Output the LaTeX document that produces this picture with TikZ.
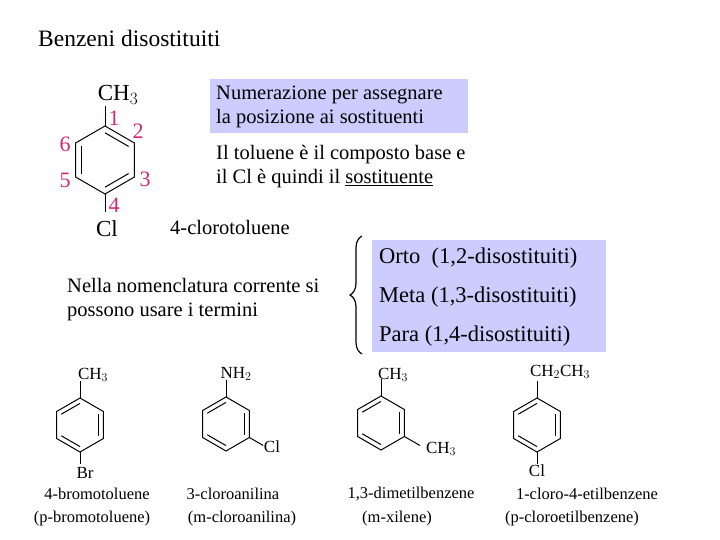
\documentclass[tikz,border=0pt]{standalone}
\usepackage{fontspec}
\setmainfont{Liberation Serif}
\usetikzlibrary{calc,decorations.pathreplacing}
\definecolor{lav}{HTML}{CCCCFF}
\definecolor{numc}{HTML}{D4257A}
\newcommand\myring[3]{%
  \foreach \k/\a in {1/90,2/30,3/-30,4/-90,5/-150,6/150}{\coordinate (#1-\k) at ($(#2)+(\a:#3)$);}
  \draw[bond] (#1-1)--(#1-2)--(#1-3)--(#1-4)--(#1-5)--(#1-6)--cycle;}
\newcommand\mydbl[3]{\draw[bond] ($(#1-#2)!0.2!(#1c)$)--($(#1-#3)!0.2!(#1c)$);}
\begin{document}
\begin{tikzpicture}[x=1pt,y=1pt,
  bond/.style={line width=1pt},
  lbl/.style={inner sep=0pt,font=\fontsize{16.5}{19}\selectfont},
  box/.style={fill=lav,draw=none},
  txt/.style={inner sep=0pt,anchor=west,font=\fontsize{20.5}{24}\selectfont,align=left},
  big/.style={inner sep=0pt,anchor=west,font=\fontsize{22.5}{26}\selectfont},
  chemA/.style={inner sep=0pt,font=\fontsize{23}{26}\selectfont},
  chemB/.style={inner sep=0pt,font=\fontsize{17}{20}\selectfont},
  num/.style={inner sep=0pt,text=numc,font=\fontsize{22}{24}\selectfont}]
\useasboundingbox (0,0) rectangle (720,-540);
\node[txt,font=\fontsize{23.5}{28}\selectfont] (title) at (38,-38) {Benzeni disostituiti};
\node[box,minimum width=258,minimum height=54,anchor=north west] (b1) at (210,-79) {};
\node[txt] (t1) at (216,-107) {Numerazione per assegnare\\la posizione ai sostituenti};
\node[txt] (t2) at (216,-167) {Il toluene è il composto base e\\il Cl è quindi il \underline{sostituente}};
\node[txt] (t3) at (170,-227) {4-clorotoluene};
% top molecule
\coordinate (Ac) at (105,-160);
\myring{A}{Ac}{34}
\mydbl{A}{1}{2}\mydbl{A}{3}{4}\mydbl{A}{5}{6}
\draw[bond] (A-1)--($(A-1)+(0,20)$) coordinate (Aa);
\draw[bond] (A-4)--($(A-4)+(0,-18)$) coordinate (Ab);
\node[chemA] (Ach3) at (118,-95) {CH$_3$};
\node[chemA] (Acl) at (107,-229) {Cl};
\node[num] (n1) at (114,-118) {1};
\node[num] (n2) at (138,-131) {2};
\node[num] (n3) at (145,-179) {3};
\node[num] (n4) at (114,-205) {4};
\node[num] (n5) at (65,-180) {5};
\node[num] (n6) at (65,-144) {6};
% middle
\node[txt] (t4) at (67,-300) {Nella nomenclatura corrente si\\possono usare i termini};
\node[box,minimum width=234,minimum height=112,anchor=north west] (b2) at (372,-240) {};
\node[big] (o) at (379,-258) {Orto\ \ (1,2-disostituiti)};
\node[big] (m) at (379,-297) {Meta (1,3-disostituiti)};
\node[big] (p) at (379,-336) {Para (1,4-disostituiti)};
\coordinate (br1) at (362,-354);\coordinate (br2) at (362,-236);
\draw[line width=1.2pt,decorate,decoration={brace,amplitude=12pt}] (br1)--(br2);
% bottom molecules
\coordinate (Bc) at (80,-425); \myring{B}{Bc}{27}
\mydbl{B}{1}{6}\mydbl{B}{2}{3}\mydbl{B}{4}{5}
\draw[bond] (B-1)--++(0,17);
\draw[bond] (B-4)--++(0,-12);
\node[chemB] (Bx) at (93,-375) {CH$_3$};
\node[chemB] (By) at (85,-473) {Br};
\coordinate (Cc) at (226,-424); \myring{C}{Cc}{27}
\mydbl{C}{1}{6}\mydbl{C}{2}{3}\mydbl{C}{4}{5}
\draw[bond] (C-1)--++(0,17);
\draw[bond] (C-3)--++(-30:16);
\node[chemB] (Cx) at (236,-374) {NH$_2$};
\node[chemB] (Cy) at (272,-447) {Cl};
\coordinate (Dc) at (381,-423); \myring{D}{Dc}{27}
\mydbl{D}{1}{6}\mydbl{D}{2}{3}\mydbl{D}{4}{5}
\draw[bond] (D-1)--++(0,17);
\draw[bond] (D-3)--++(-30:18);
\node[chemB] (Dx) at (393,-375) {CH$_3$};
\node[chemB] (Dy) at (441,-449) {CH$_3$};
\coordinate (Ec) at (537,-425); \myring{E}{Ec}{27}
\mydbl{E}{1}{6}\mydbl{E}{2}{3}\mydbl{E}{4}{5}
\draw[bond] (E-1)--++(0,17);
\draw[bond] (E-4)--++(0,-12);
\node[chemB] (Ex) at (560,-372) {CH$_2$CH$_3$};
\node[chemB] (Ey) at (537,-471) {Cl};
% labels
\node[lbl] (l1) at (97,-494) {4-bromotoluene};
\node[lbl] (l2) at (92,-519) {(p-bromotoluene)};
\node[lbl] (l3) at (233,-494) {3-cloroanilina};
\node[lbl] (l4) at (242,-519) {(m-cloroanilina)};
\node[lbl] (l5) at (411,-494) {1,3-dimetilbenzene};
\node[lbl] (l6) at (397,-519) {(m-xilene)};
\node[lbl] (l7) at (587,-494) {1-cloro-4-etilbenzene};
\node[lbl] (l8) at (572,-519) {(p-cloroetilbenzene)};
\end{tikzpicture}
\end{document}
